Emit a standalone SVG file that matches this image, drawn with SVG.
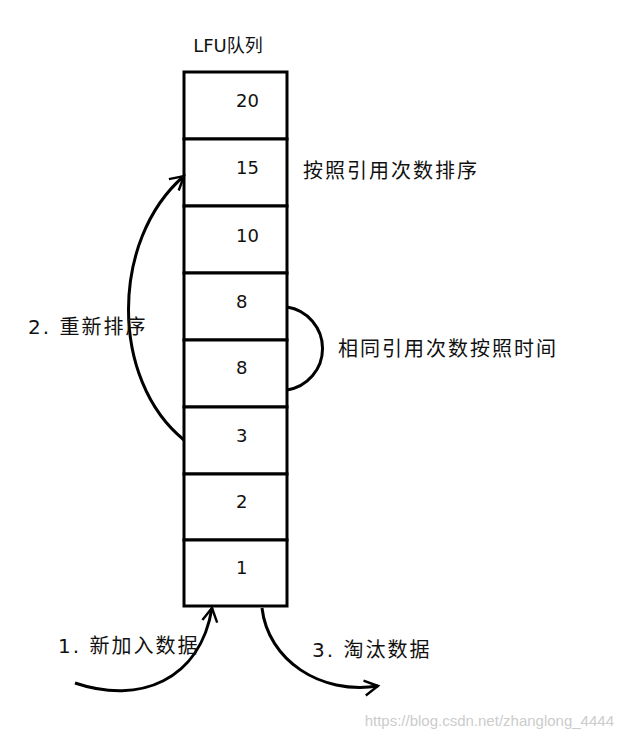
<svg xmlns="http://www.w3.org/2000/svg" width="622" height="738" viewBox="0 0 622 738">
<style>
.c{fill:#fff;stroke:#000;stroke-width:3}
.t{font-family:"DejaVu Sans","Noto Sans CJK SC",sans-serif;font-size:18px;fill:#111}
.k{font-size:20px;letter-spacing:2px}
.n{text-anchor:middle}
.l{fill:none;stroke:#000;stroke-width:3}
</style>
<defs>
<marker id="a" viewBox="0 0 12 12" refX="10" refY="6" markerWidth="6" markerHeight="6" orient="auto" markerUnits="strokeWidth"><polyline points="1,1 10,6 1,11" fill="none" stroke="#000" stroke-width="1.6"/></marker>
</defs>
<rect width="622" height="738" fill="#fff"/>
<text class="t n" x="228" y="52">LFU队列</text>
<g id="cells">
<g id="c20"><rect class="c" x="184" y="72" width="103" height="67"/><text class="t" x="236" y="107">20</text></g>
<g id="c15"><rect class="c" x="184" y="139" width="103" height="67"/><text class="t" x="236" y="174">15</text></g>
<g id="c10"><rect class="c" x="184" y="206" width="103" height="67"/><text class="t" x="236" y="242">10</text></g>
<g id="c8a"><rect class="c" x="184" y="273" width="103" height="67"/><text class="t" x="236" y="308">8</text></g>
<g id="c8b"><rect class="c" x="184" y="340" width="103" height="67"/><text class="t" x="236" y="374">8</text></g>
<g id="c3"><rect class="c" x="184" y="407" width="103" height="67"/><text class="t" x="236" y="442">3</text></g>
<g id="c2"><rect class="c" x="184" y="474" width="103" height="66"/><text class="t" x="236" y="508">2</text></g>
<g id="c1"><rect class="c" x="184" y="540" width="103" height="66"/><text class="t" x="236" y="574">1</text></g>
</g>
<g id="connectors">
<path class="l" d="M184,440 C110,380 110,240 184,176" marker-end="url(#a)"/>
<path class="l" d="M287,307 A42,42 0 0 1 287,390"/>
<path class="l" d="M75,683 C140,705 200,680 212,608" marker-end="url(#a)"/>
<path class="l" d="M262,608 C268,660 320,695 378,686" marker-end="url(#a)"/>
</g>
<text class="t k" x="303" y="178">按照引用次数排序</text>
<text class="t k" x="338" y="356">相同引用次数按照时间</text>
<text class="t k" x="28" y="334">2. 重新排序</text>
<text class="t k" x="58" y="653">1. 新加入数据</text>
<text class="t k" x="312" y="657">3. 淘汰数据</text>
<text x="614" y="726" text-anchor="end" font-family="Liberation Sans,sans-serif" font-size="15" fill="#ccc">https://blog.csdn.net/zhanglong_4444</text>
</svg>
